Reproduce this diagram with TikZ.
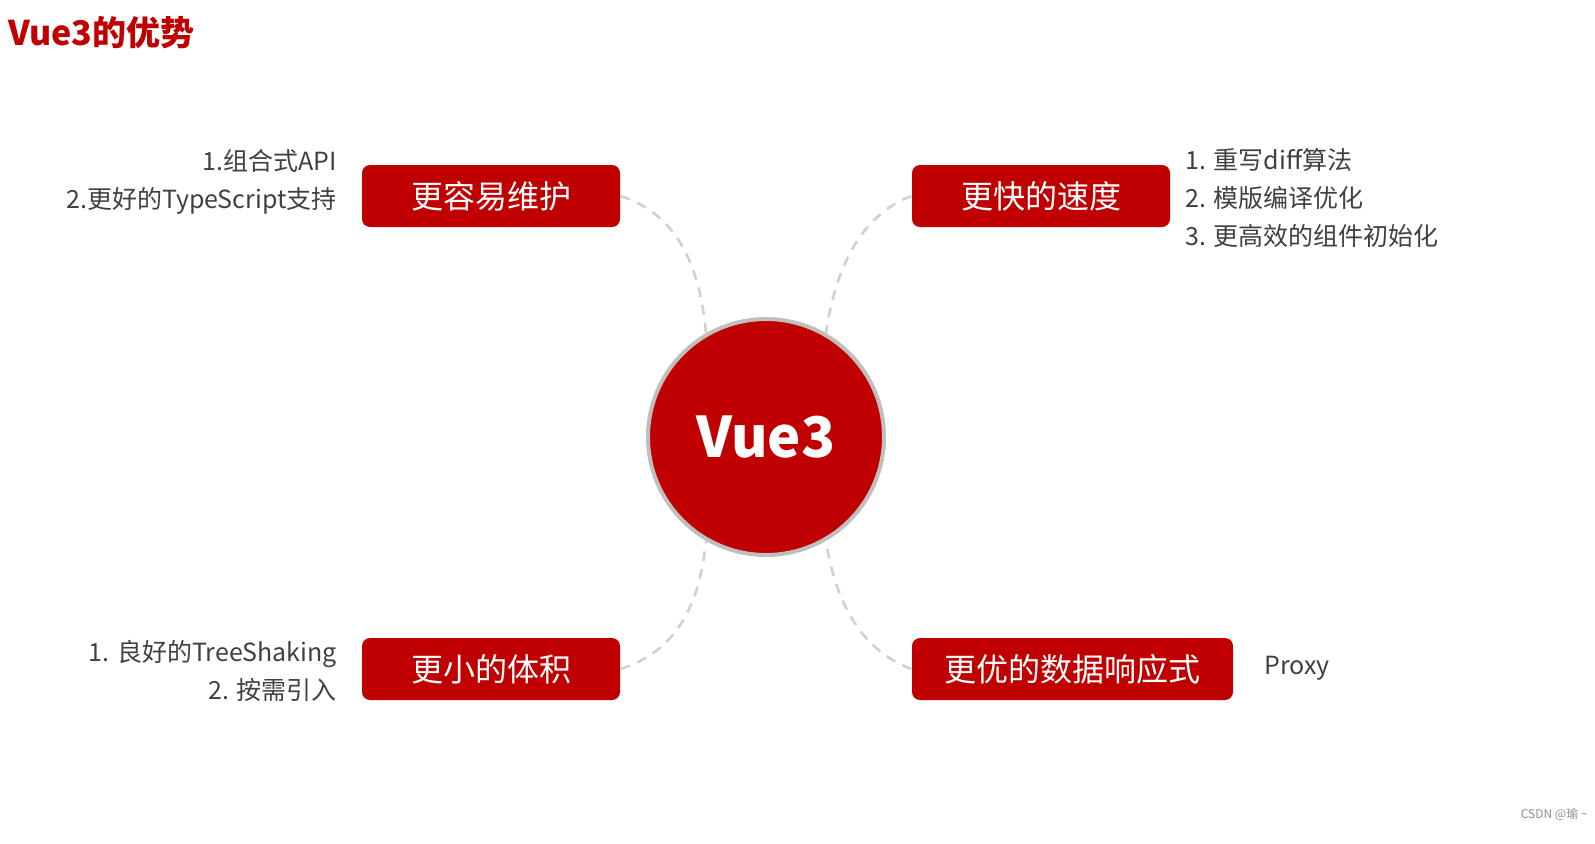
\documentclass[tikz,border=0pt]{standalone}
\usepackage{fontspec}
\setmainfont{Noto Sans CJK SC}
\definecolor{vred}{HTML}{C00000}
\definecolor{tgray}{HTML}{404040}
\begin{document}
\begin{tikzpicture}[x=0.5pt,y=-0.5pt,
  box/.style={fill=vred,rounded corners=4pt,text=white,font=\fontsize{16}{18}\selectfont,inner sep=0pt},
  side/.style={text=tgray,font=\fontsize{12.5}{19}\selectfont,inner sep=0pt},
  link/.style={draw=black!18,line width=1.3pt,dashed,dash pattern=on 5pt off 4pt}]
\useasboundingbox (0,0) rectangle (1595,843);
\node[anchor=west,text=vred,font=\fontsize{17}{20}\selectfont\bfseries,inner sep=0pt] (title) at (8,33) {Vue3的优势};
\node[circle,fill=vred,draw=black!25,line width=2pt,minimum size=236\pgflinewidth,minimum size=118pt,text=white,font=\fontsize{28}{30}\selectfont\bfseries] (c) at (766,437) {Vue3};
\node[box,minimum width=129pt,minimum height=31pt] (a) at (491,196) {更容易维护};
\node[box,minimum width=129pt,minimum height=31pt] (b) at (1041,196) {更快的速度};
\node[box,minimum width=129pt,minimum height=31pt] (d) at (491,669) {更小的体积};
\node[box,minimum width=160.5pt,minimum height=31pt] (e) at (1072.5,669) {更优的数据响应式};
\draw[link] (a.east) .. controls (680,215) and (700,270) .. (c.120);
\draw[link] (d.east) .. controls (680,650) and (700,600) .. (c.240);
\draw[link] (b.west) .. controls (860,215) and (835,270) .. (c.60);
\draw[link] (e.west) .. controls (860,650) and (835,600) .. (c.300);
\node[side,anchor=east,align=right] (at) at (337,182) {1.组合式API\\2.更好的TypeScript支持};
\node[side,anchor=west,align=left] (bt) at (1185,198) {1. 重写diff算法\\2. 模版编译优化\\3. 更高效的组件初始化};
\node[side,anchor=east,align=right] (dt) at (337,671) {1. 良好的TreeShaking\\2. 按需引入};
\node[side,anchor=west] (et) at (1264,668) {Proxy};
\node[anchor=east,text=black!45,font=\fontsize{6}{7}\selectfont,inner sep=0pt] (wm) at (1588,814) {CSDN @瑜 \textasciitilde};
\end{tikzpicture}
\end{document}
